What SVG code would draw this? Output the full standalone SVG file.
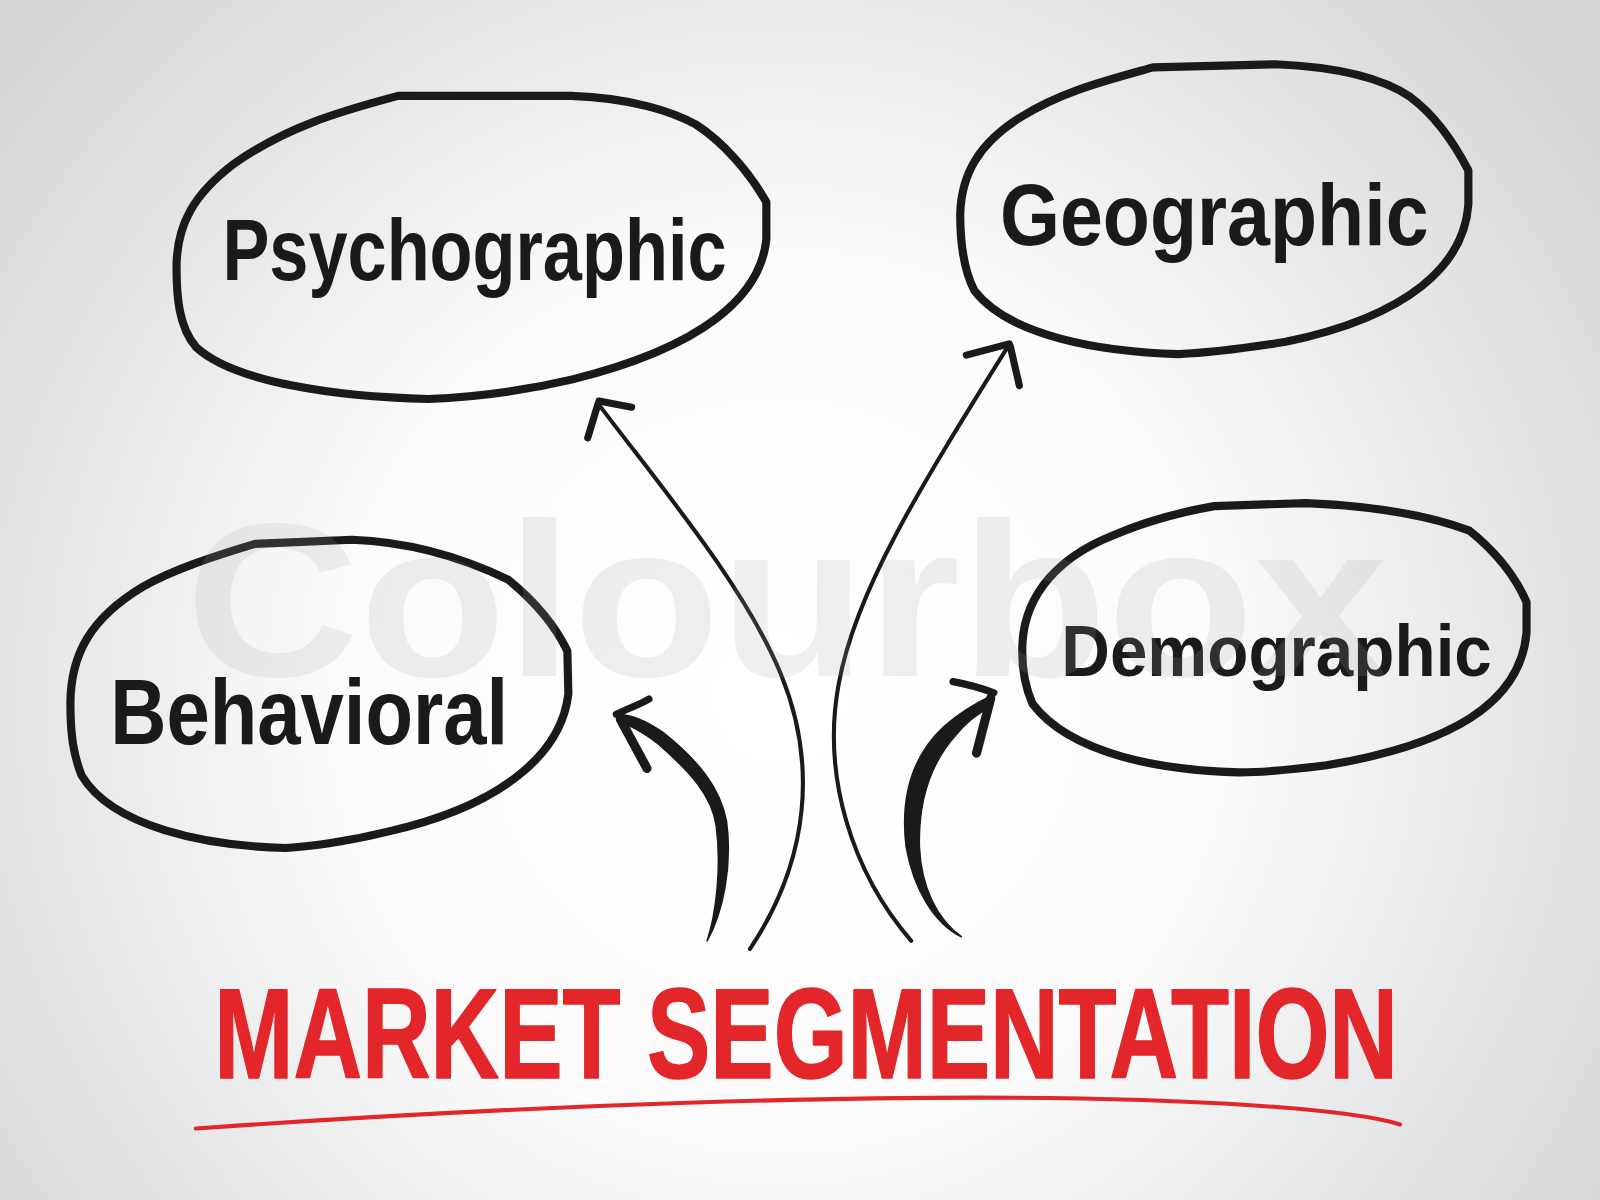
<svg xmlns="http://www.w3.org/2000/svg" width="1600" height="1200" viewBox="0 0 1600 1200">
<defs>
<radialGradient id="bg" cx="780" cy="700" r="980" gradientUnits="userSpaceOnUse">
<stop offset="0" stop-color="#ffffff"/>
<stop offset="0.45" stop-color="#fbfbfb"/>
<stop offset="1" stop-color="#d4d6d8"/>
</radialGradient>
<style>
.ell{fill:none;stroke:#1a1a1a;stroke-width:8;stroke-linejoin:round}
.lbl{font-family:"Liberation Sans",Arial,sans-serif;font-weight:bold;fill:#1a1a1a}
.thin{fill:none;stroke:#1a1a1a;stroke-width:4;stroke-linecap:round}
.barb{fill:none;stroke:#1a1a1a;stroke-width:7;stroke-linecap:round}
.bbarb{fill:none;stroke:#1a1a1a;stroke-width:9;stroke-linecap:round}
.brush{fill:#1a1a1a;stroke:#1a1a1a;stroke-width:1.5;stroke-linejoin:round}
.title{font-family:"Liberation Sans",Arial,sans-serif;font-weight:bold;fill:#e2262a;stroke:#e2262a;stroke-width:1.5;stroke-linejoin:round}
.wm{font-family:"Liberation Sans",Arial,sans-serif;font-weight:bold;fill:#a0a0a0;fill-opacity:0.17}
</style>
</defs>
<rect width="1600" height="1200" fill="url(#bg)"/>
<g transform="scale(1.020408)">
<g id="psychographic">
<path class="ell" d="M390,94 L560,94 C620,96 660,110 682,122 C710,140 735,170 751,198 L751,235 C745,290 690,340 560,372 C500,386 450,390 420,391 C330,389 230,375 192,340 C175,320 173,290 173,262 C173,220 190,190 230,160 C280,125 330,110 390,94 Z"/>
<text class="lbl" x="218" y="274" font-size="86" textLength="494" lengthAdjust="spacingAndGlyphs">Psychographic</text>
</g>
<g id="geographic">
<path class="ell" d="M1130,66 L1250,63 C1320,66 1360,80 1382,95 C1405,112 1425,140 1439,167 L1439,200 C1435,260 1380,310 1260,335 C1210,343 1180,346 1155,347 C1080,345 990,330 955,285 C942,260 941,230 941,210 C942,170 960,140 1000,115 C1040,90 1080,80 1130,66 Z"/>
<text class="lbl" x="980" y="240" font-size="86" textLength="420" lengthAdjust="spacingAndGlyphs">Geographic</text>
</g>
<g id="behavioral">
<path class="ell" d="M250,533 L345,529 C400,531 450,545 498,568 C525,590 545,615 556,638 L557,680 C550,740 490,790 380,815 C340,825 300,830 280,831 C200,829 110,810 80,760 C72,740 69,720 69,690 C69,640 90,605 140,575 C170,558 210,545 250,533 Z"/>
<text class="lbl" x="108" y="729" font-size="90" textLength="390" lengthAdjust="spacingAndGlyphs">Behavioral</text>
</g>
<g id="demographic">
<path class="ell" d="M1190,496 L1280,493 C1350,496 1400,505 1440,520 C1465,540 1485,565 1496,590 L1496,620 C1490,690 1420,730 1300,750 C1260,755 1235,757 1215,757 C1140,755 1050,740 1012,690 C1003,670 1001,650 1002,630 C1005,580 1040,545 1090,525 C1120,512 1150,503 1190,496 Z"/>
<text class="lbl" x="1040" y="662" font-size="70" textLength="422" lengthAdjust="spacingAndGlyphs">Demographic</text>
</g>
<g id="title">
<text class="title" x="210" y="1056" font-size="126" textLength="1160" lengthAdjust="spacingAndGlyphs">MARKET SEGMENTATION</text>
<path d="M192,1106 C500,1084 860,1070 1120,1078 C1260,1083 1340,1092 1372,1102" fill="none" stroke="#e2262a" stroke-width="4" stroke-linecap="round"/>
</g>
<g id="connectors">
<path class="thin" d="M735,930 C795,840 800,745 765,660 C730,575 650,480 588,398"/>
<path class="barb" d="M587,393 L619,399"/>
<path class="barb" d="M586,396 L576,429"/>
<path class="thin" d="M893,922 C835,855 805,760 822,670 C838,580 900,480 990,336"/>
<path class="barb" d="M989,337 L947,348"/>
<path class="barb" d="M990,339 L999,378"/>
<path class="brush" d="M693,922 C708,895 718,850 712,805 C706,772 684,745 650,718 C630,704 615,700 604,700 L614,710 C628,716 640,725 645,729 C676,756 698,780 702,810 C707,850 702,895 693,922 Z"/>
<path class="barb" d="M604,700 C616,694 626,691 636,685"/>
<path class="bbarb" d="M608,705 L634,753"/>
<path class="brush" d="M942,918 C915,905 895,870 888,830 C882,780 895,740 925,712 C942,697 958,688 975,680 L972,692 C958,699 947,708 937,720 C910,750 900,790 901,830 C903,870 918,900 942,918 Z"/>
<path class="barb" d="M974,679 C958,673 945,670 934,668"/>
<path class="bbarb" d="M971,684 L957,738"/>
</g>
<text class="wm" x="182" y="662" font-size="215" textLength="1178" lengthAdjust="spacingAndGlyphs">Colourbox</text>
</g>
</svg>
